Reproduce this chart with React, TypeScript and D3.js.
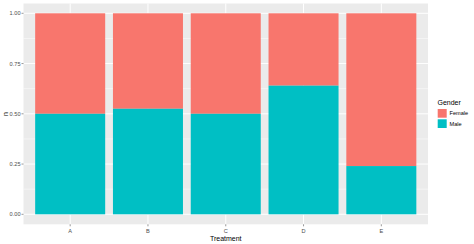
import React from "react";
import * as d3 from "d3";

const categories = ["A", "B", "C", "D", "E"];
const maleShare = [0.5, 0.525, 0.5, 0.64, 0.24];
const yTicks = [0, 0.25, 0.5, 0.75, 1.0];
const yMinor = [0.125, 0.375, 0.625, 0.875];
const seriesNames = ["Female", "Male"];
const colors = ["#F8766D", "#00BFC4"];

export default function App() {
  const W = 474, H = 244;
  const panel = { l: 23.5, t: 3.5, r: 428, b: 224.3 };
  const x = d3.scaleLinear().domain([0.4, 5.6]).range([panel.l, panel.r]);
  const y = d3.scaleLinear().domain([0, 1]).range([214.3, 13.3]);
  const data = categories.map((c, i) => ({ c, i: i + 1, male: maleShare[i] }));
  const fs = 5.6;
  return (
    <svg width={W} height={H} style={{ position: "absolute", left: 0, top: 0, fontFamily: "Liberation Sans, Arial, sans-serif" }}>
      <rect x={0} y={0} width={W} height={H} fill="white" />
      <rect x={panel.l} y={panel.t} width={panel.r - panel.l} height={panel.b - panel.t} fill="#EBEBEB" />
      {yMinor.map((v) => (
        <line key={"m" + v} x1={panel.l} x2={panel.r} y1={y(v)} y2={y(v)} stroke="white" strokeWidth={0.5} />
      ))}
      {yTicks.map((v) => (
        <line key={"g" + v} x1={panel.l} x2={panel.r} y1={y(v)} y2={y(v)} stroke="white" strokeWidth={1} />
      ))}
      {data.map((d) => (
        <line key={"vx" + d.c} x1={x(d.i)} x2={x(d.i)} y1={panel.t} y2={panel.b} stroke="white" strokeWidth={1} />
      ))}
      {data.map((d) => (
        <g key={d.c}>
          <rect x={x(d.i - 0.45)} width={x(d.i + 0.45) - x(d.i - 0.45)} y={y(1)} height={y(d.male) - y(1)} fill={colors[0]} />
          <rect x={x(d.i - 0.45)} width={x(d.i + 0.45) - x(d.i - 0.45)} y={y(d.male)} height={y(0) - y(d.male)} fill={colors[1]} />
        </g>
      ))}
      {yTicks.map((v) => (
        <g key={"t" + v}>
          <line x1={panel.l - 2} x2={panel.l} y1={y(v)} y2={y(v)} stroke="#333" strokeWidth={0.5} />
          <text x={panel.l - 3} y={y(v)} dy="0.35em" textAnchor="end" fontSize={fs} fill="#4D4D4D">
            {v.toFixed(2)}
          </text>
        </g>
      ))}
      {data.map((d) => (
        <g key={"xt" + d.c}>
          <line x1={x(d.i)} x2={x(d.i)} y1={panel.b} y2={panel.b + 2} stroke="#333" strokeWidth={0.5} />
          <text x={x(d.i)} y={panel.b + 8.5} textAnchor="middle" fontSize={fs} fill="#4D4D4D">
            {d.c}
          </text>
        </g>
      ))}
      <text x={(panel.l + panel.r) / 2} y={240.5} textAnchor="middle" fontSize={7} fill="black">
        Treatment
      </text>
      <text x={6} y={114} dy="0.35em" textAnchor="middle" fontSize={7} fill="black" transform="rotate(-90 6 114)">
        n
      </text>
      <text x={437.5} y={105} fontSize={7} fill="black">Gender</text>
      {seriesNames.map((s, i) => (
        <g key={s}>
          <rect x={437.7} y={109 + i * 10.3} width={9} height={8.7} fill={colors[i]} />
          <text x={449.5} y={113.4 + i * 10.3} dy="0.35em" fontSize={5.6} fill="black">{s}</text>
        </g>
      ))}
    </svg>
  );
}
